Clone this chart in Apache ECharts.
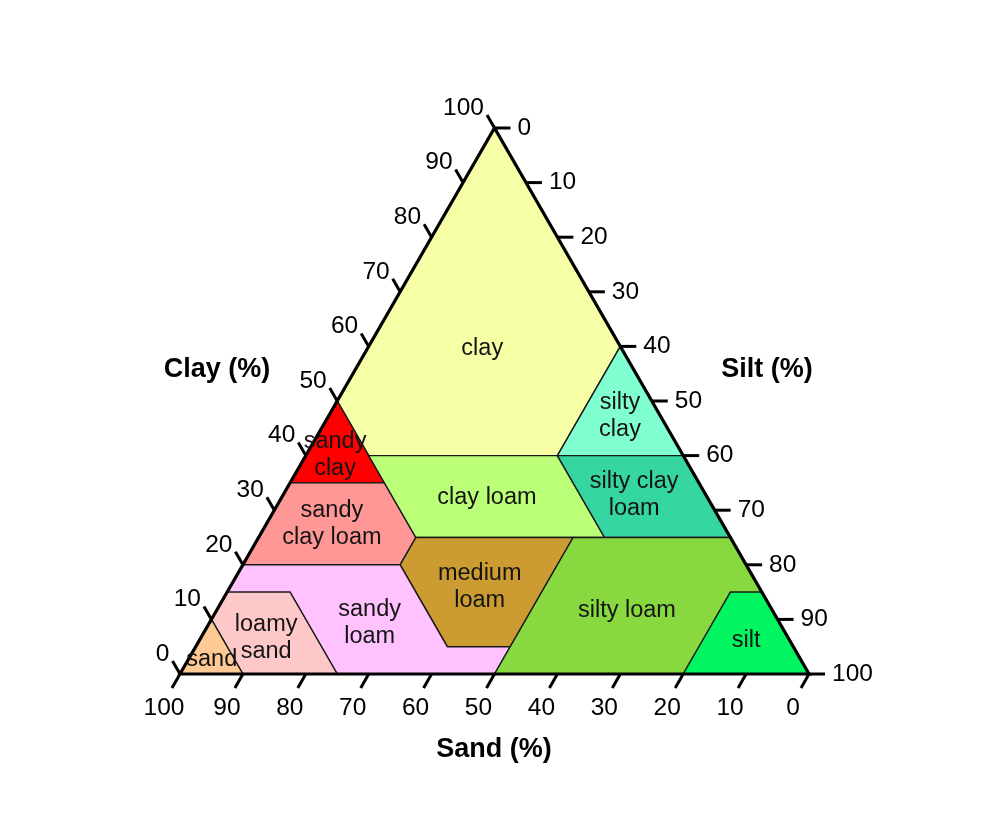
<!DOCTYPE html>
<html><head><meta charset="utf-8">
<script src="https://cdn.jsdelivr.net/npm/echarts@6/dist/echarts.min.js"></script>
<style>html,body{margin:0;padding:0;background:#fff}#c{width:1000px;height:813px}</style>
</head><body><div id="c"></div>
<script>
// Region outlines, each vertex is [sand, clay, silt] in %
const clayRegion    = [[0,100,0],[50,50,0],[50,40,10],[20,40,40],[0,60,40]];
const sandyClay     = [[50,50,0],[65,35,0],[50,35,15]];
const sandyClayLoam = [[65,35,0],[80,20,0],[55,20,25],[50,25,25],[50,35,15]];
const clayLoam      = [[50,40,10],[20,40,40],[20,25,55],[50,25,25]];
const siltyClay     = [[0,60,40],[20,40,40],[0,40,60]];
const siltyClayLoam = [[20,40,40],[0,40,60],[0,25,75],[20,25,55]];
const mediumLoam    = [[50,25,25],[25,25,50],[45,5,50],[55,5,40],[55,20,25]];
const sandyLoam     = [[80,20,0],[85,15,0],[75,15,10],[75,0,25],[50,0,50],[45,5,50],[55,5,40],[55,20,25]];
const siltyLoam     = [[25,25,50],[0,25,75],[0,15,85],[5,15,80],[20,0,80],[50,0,50]];
const siltRegion    = [[20,0,80],[0,0,100],[0,15,85],[5,15,80]];
const loamySand     = [[90,10,0],[85,15,0],[75,15,10],[75,0,25],[90,0,10]];
const sandRegion    = [[100,0,0],[90,10,0],[90,0,10]];

const regionNames = ['clay','sandy\nclay','sandy\nclay loam','clay loam','silty\nclay','silty clay\nloam',
  'medium\nloam','sandy\nloam','silty loam','silt','loamy\nsand','sand'];
// label anchor compositions [sand, clay, silt]
const labelAnchors = [[22.1,59.7,18.2],[55.3,40.1,4.6],[62.1,27.5,10.4],[35.0,32.4,32.6],[6.4,47.3,46.3],
  [11.4,32.8,55.8],[44.4,15.9,39.7],[65.2,9.3,25.5],[23.1,11.7,65.2],[6.9,6.2,86.9],[83.0,6.6,10.4],[93.6,2.7,3.7]];
const regionColors = ['#F7FFA6','#FF0000','#FF9797','#BBFF78','#80FFD0','#35D6A2',
  '#CC9C33','#FFC2FF','#88D840','#00F560','#FFC8C8','#FFC995'];
const tickValues = [0,10,20,30,40,50,60,70,80,90,100];
const triangle = [[100,0,0],[0,0,100],[0,100,0]];

const regions = [clayRegion,sandyClay,sandyClayLoam,clayLoam,siltyClay,siltyClayLoam,
  mediumLoam,sandyLoam,siltyLoam,siltRegion,loamySand,sandRegion];

function toXY(v){ return [v[2] + v[1]/2, v[1]]; }
const FONT = '"Liberation Sans", Arial, Helvetica, sans-serif';

function tickSeries(kind){
  return {
    type:'custom', coordinateSystem:'cartesian2d', silent:true, z:5,
    data: tickValues.map(v=>[v]),
    renderItem:(params, api)=>{
      const v = api.value(0);
      let b, e, tx, ty, align;
      if(kind==='sand'){
        b = api.coord(toXY([v,0,100-v]));
        e = [b[0]-8, b[1]+14];
        tx = e[0]-8; ty = e[1]+20; align='center';
      } else if(kind==='clay'){
        b = api.coord(toXY([100-v,v,0]));
        e = [b[0]-7.5, b[1]-13];
        tx = e[0]-3; ty = e[1]-7; align='right';
      } else {
        b = api.coord(toXY([0,100-v,v]));
        e = [b[0]+16, b[1]];
        tx = e[0]+7; ty = e[1]; align='left';
      }
      return {type:'group', children:[
        {type:'line', shape:{x1:b[0],y1:b[1],x2:e[0],y2:e[1]}, style:{stroke:'#000', lineWidth:3}},
        {type:'text', style:{text:String(v), x:tx, y:ty, align:align, verticalAlign:'middle',
          fontSize:24.5, fontFamily:FONT, fill:'#000'}}
      ]};
    }
  };
}

const chart = echarts.init(document.getElementById('c'));
chart.setOption({
  animation:false,
  grid:{left:180, top:128, width:629, height:546},
  xAxis:{type:'value', min:0, max:100, show:false},
  yAxis:{type:'value', min:0, max:100, show:false},
  graphic:[
    {type:'text', x:217, y:370, style:{text:'Clay (%)', align:'center', verticalAlign:'middle', fontSize:27, fontWeight:'bold', fontFamily:FONT, fill:'#000'}},
    {type:'text', x:767, y:370, style:{text:'Silt (%)', align:'center', verticalAlign:'middle', fontSize:27, fontWeight:'bold', fontFamily:FONT, fill:'#000'}},
    {type:'text', x:494, y:750, style:{text:'Sand (%)', align:'center', verticalAlign:'middle', fontSize:27, fontWeight:'bold', fontFamily:FONT, fill:'#000'}}
  ],
  series:[
    {
      type:'custom', coordinateSystem:'cartesian2d', silent:true, z:1,
      data: regions.map((r,i)=>[i]),
      renderItem:(params, api)=>{
        const i = api.value(0);
        const pts = regions[i].map(v=>api.coord(toXY(v)));
        return {type:'polygon', shape:{points:pts}, style:{fill:regionColors[i], stroke:'#1a1a1a', lineWidth:1.4}};
      }
    },
    {
      type:'custom', coordinateSystem:'cartesian2d', silent:true, z:3,
      data:[[0]],
      renderItem:(params, api)=>{
        const pts = triangle.map(v=>api.coord(toXY(v)));
        return {type:'polygon', shape:{points:pts}, style:{fill:'none', stroke:'#000', lineWidth:3.2, lineJoin:'miter'}};
      }
    },
    {
      type:'custom', coordinateSystem:'cartesian2d', silent:true, z:4,
      data: labelAnchors.map((a,i)=>[i]),
      renderItem:(params, api)=>{
        const i = api.value(0);
        const p = api.coord(toXY(labelAnchors[i]));
        return {type:'text', style:{text:regionNames[i], x:p[0], y:p[1], align:'center', verticalAlign:'middle',
          fontSize:23.5, lineHeight:27, fontFamily:FONT, fill:'#141414'}};
      }
    },
    tickSeries('sand'), tickSeries('clay'), tickSeries('silt')
  ]
});
</script></body></html>
